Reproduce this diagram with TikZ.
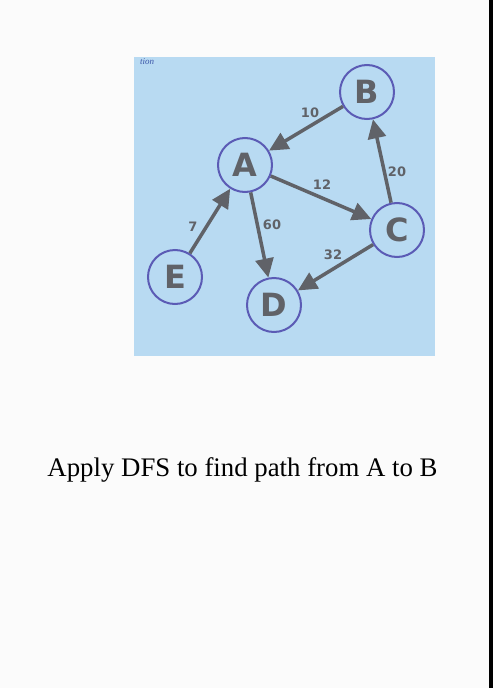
\documentclass[tikz,border=0pt]{standalone}
\usepackage{fontspec}
\setmainfont{Liberation Serif}
\setsansfont{DejaVu Sans}
\usetikzlibrary{arrows.meta}
\definecolor{SlideBlue}{HTML}{B8DAF2}
\definecolor{RingBlue}{HTML}{5B5BB5}
\definecolor{EdgeGray}{HTML}{606268}
\definecolor{PenBlue}{HTML}{3A55A8}
\definecolor{PageWhite}{HTML}{FBFBFB}

\begin{document}
\begin{tikzpicture}[x=1pt,y=-1pt,
  vertex/.style={circle,draw=RingBlue,line width=2pt,minimum size=54pt,inner sep=0pt,
    font=\sffamily\bfseries\fontsize{32}{32}\selectfont,text=EdgeGray},
  link/.style={draw=EdgeGray,line width=3.5pt,-{Triangle[length=19pt,width=18pt]}},
  wt/.style={font=\sffamily\bfseries\fontsize{13}{13}\selectfont,text=EdgeGray}]
  \useasboundingbox (0,0) rectangle (493,688);
  \fill[PageWhite] (0,0) rectangle (489,688);
  \fill[black] (489,0) rectangle (493,688);
  % the slide
  \fill[SlideBlue] (134,57) rectangle (435,356);
  \node[font=\itshape\small,text=PenBlue] (scrawl) at (147,62) {tion};
  \node[vertex] (A) at (245,165) {A};
  \node[vertex] (B) at (367,92) {B};
  \node[vertex] (C) at (397,230) {C};
  \node[vertex] (D) at (274,305) {D};
  \node[vertex] (E) at (175,277) {E};
  \draw[link] (B) -- (A);
  \draw[link] (A) -- (C);
  \draw[link] (C) -- (B);
  \draw[link] (A) -- (D);
  \draw[link] (C) -- (D);
  \draw[link] (E) -- (A);
  \node[wt] at (310,113) {10};
  \node[wt] at (322,185) {12};
  \node[wt] at (397,172) {20};
  \node[wt] at (272,225) {60};
  \node[wt] at (333,255) {32};
  \node[wt] at (193,227) {7};
  % task line
  \node[font=\fontsize{26.8}{26.8}\selectfont] (task) at (242.5,470) {Apply DFS to find path from A to B};
\end{tikzpicture}
\end{document}
